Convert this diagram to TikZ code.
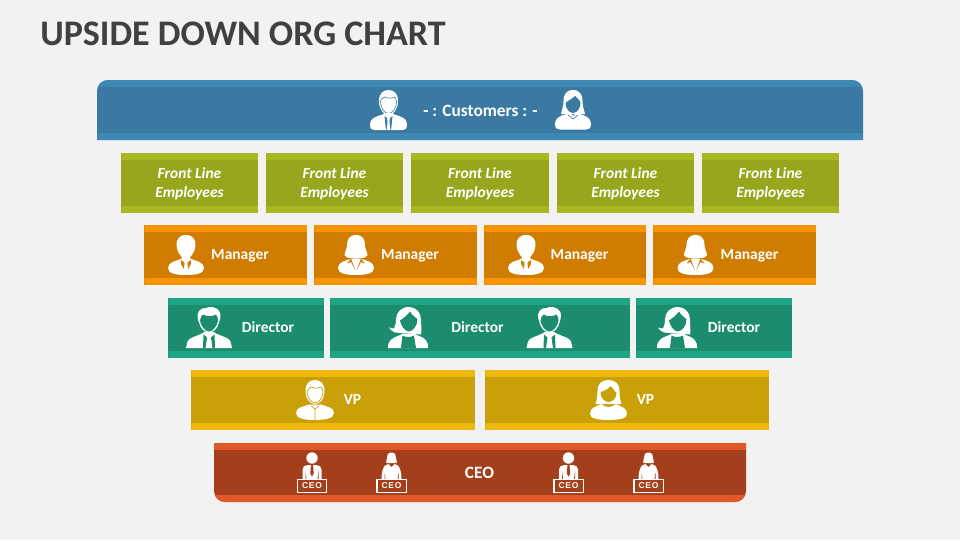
\documentclass[tikz,border=0pt]{standalone}
\usepackage{fontspec}
\setmainfont{Carlito}
\newfontfamily\tagfont[LetterSpace=8]{Liberation Sans}
\usetikzlibrary{positioning}
\definecolor{pagebg}{HTML}{F2F2F2}
\definecolor{titlegray}{HTML}{404040}
\definecolor{custbody}{HTML}{3A7AA2}
\definecolor{custband}{HTML}{3E89B4}
\definecolor{frontbody}{HTML}{98A61E}
\definecolor{frontband}{HTML}{A8B820}
\definecolor{mgrbody}{HTML}{D07C00}
\definecolor{mgrband}{HTML}{F89400}
\definecolor{dirbody}{HTML}{1B8C6E}
\definecolor{dirband}{HTML}{1EA682}
\definecolor{vpbody}{HTML}{CAA008}
\definecolor{vpband}{HTML}{F0B80A}
\definecolor{ceobody}{HTML}{A53E1A}
\definecolor{ceoband}{HTML}{E05828}
\tikzset{
  rowbar/.style 2 args={fill=#1,path picture={
      \fill[#2] (path picture bounding box.north west) rectangle ([yshift=-4.9pt]path picture bounding box.north east);
      \fill[#2] (path picture bounding box.south west) rectangle ([yshift=4.9pt]path picture bounding box.south east);}},
  boxbar/.style={anchor=north west,inner sep=0pt,minimum height=44.5pt},
  wd/.style={minimum width=#1*0.75pt},
  frontbar/.style={boxbar,rowbar={frontbody}{frontband}},
  mgrbar/.style={boxbar,rowbar={mgrbody}{mgrband}},
  dirbar/.style={boxbar,rowbar={dirbody}{dirband}},
  vpbar/.style={boxbar,rowbar={vpbody}{vpband}},
  lbl/.style={text=white,font=\fontsize{11.6pt}{13pt}\selectfont\bfseries,inner sep=0pt},
  boldlbl/.style={text=white,font=\fontsize{13pt}{14pt}\selectfont\bfseries,inner sep=0pt},
  frontlbl/.style={text=white,align=center,inner sep=0pt,font=\fontsize{11.6pt}{14.2pt}\selectfont\bfseries\itshape},
  ceotag/.style={draw=white,line width=1pt,inner sep=0pt,minimum width=22pt,minimum height=9.8pt,
    text=white,font=\tagfont\bfseries\fontsize{6.4pt}{7pt}\selectfont},
  % the people, all in pixels round their middle; the value is the colour behind them
  pics/custman/.style={code={
      \fill[white] (-9.5,-9) .. controls (-9.5,-17) and (-5,-20) .. (0,-20) .. controls (5,-20) and (9.5,-17) .. (9.5,-9) .. controls (9.5,-1) and (5,5) .. (0,5) .. controls (-5,5) and (-9.5,-1) .. (-9.5,-9) -- cycle;
      \draw[#1,line width=.45pt] (-8,-9) .. controls (-7,-11) and (-6,-12.5) .. (-4,-13) .. controls (-1,-11.5) and (4,-11.5) .. (6,-13) .. controls (7,-12) and (8,-10) .. (8,-8) .. controls (8,-2) and (4,3.5) .. (0,3.5) .. controls (-4,3.5) and (-8,-2) .. (-8,-9) -- cycle;
      \fill[white] (-18.5,14) .. controls (-18.5,8) and (-12,6.5) .. (-6,4.5) -- (-4,3) -- (4,3) -- (6,4.5) .. controls (12,6.5) and (18.5,8) .. (18.5,14) .. controls (18.5,19) and (17,20) .. (14,20) -- (-14,20) .. controls (-17,20) and (-18.5,19) .. (-18.5,14) -- cycle;
      \fill[#1] (-4,6) -- (-1.5,8) -- (-1,12) -- (-2,20) -- (-2.6,20) -- cycle;
      \fill[#1] (4,6) -- (1.5,8) -- (1,12) -- (2,20) -- (2.6,20) -- cycle;
  }},
  pics/custwoman/.style={code={
      \fill[white] (0,-20) .. controls (-7,-20) and (-9.5,-15) .. (-9.5,-9) .. controls (-9.5,-4) and (-11,0) .. (-12,4) -- (12,4) .. controls (11,0) and (9.5,-4) .. (9.5,-9) .. controls (9.5,-15) and (7,-20) .. (0,-20) -- cycle;
      \fill[#1] (-7.5,-7) .. controls (-6,-9) and (-2,-10) .. (2,-14) .. controls (4,-11) and (7.5,-10) .. (7.5,-7) .. controls (7.5,-2) and (4,3) .. (0,3) .. controls (-4,3) and (-7.5,-2) .. (-7.5,-7) -- cycle;
      \fill[white] (-18,14) .. controls (-18,8) and (-13,6) .. (-7,4) -- (-3,3) -- (0,6) -- (3,3) -- (7,4) .. controls (13,6) and (18,8) .. (18,14) .. controls (18,18.5) and (16,19.5) .. (13,19.5) -- (-13,19.5) .. controls (-16,19.5) and (-18,18.5) .. (-18,14) -- cycle;
      \draw[#1,line width=.5pt] (-5,5) -- (0,9) -- (5,5);
  }},
  pics/mgrman/.style={code={
      \fill[white] (0,-20) .. controls (-8,-20) and (-10,-14) .. (-9.5,-9) .. controls (-9,-3) and (-5,1) .. (-3.5,3) -- (3.5,3) .. controls (5,1) and (9,-3) .. (9.5,-9) .. controls (10,-14) and (8,-20) .. (0,-20) -- cycle;
      \fill[white] (-18,13) .. controls (-18,7) and (-10,6) .. (-5,4) -- (-3.5,2) -- (3.5,2) -- (5,4) .. controls (10,6) and (18,7) .. (18,13) .. controls (18,18.5) and (10,20) .. (0,20) .. controls (-10,20) and (-18,18.5) .. (-18,13) -- cycle;
      \fill[#1] (-5,5) -- (-1.5,7.5) -- (-2,14) -- (-5,9) -- cycle;
      \fill[#1] (5,5) -- (1.5,7.5) -- (2,14) -- (5,9) -- cycle;
  }},
  pics/mgrwoman/.style={code={
      \fill[white] (0,-20) .. controls (-7,-20) and (-9,-15) .. (-9,-10) .. controls (-9,-6) and (-11.5,-3) .. (-11.5,0) .. controls (-10,3) and (-6,3) .. (-3,3.5) -- (3,3.5) .. controls (6,3) and (10,3) .. (11.5,0) .. controls (11.5,-3) and (9,-6) .. (9,-10) .. controls (9,-15) and (7,-20) .. (0,-20) -- cycle;
      \fill[white] (-18,13) .. controls (-18,7) and (-11,6) .. (-6,4) -- (6,4) .. controls (11,6) and (18,7) .. (18,13) .. controls (18,18.5) and (10,20) .. (0,20) .. controls (-10,20) and (-18,18.5) .. (-18,13) -- cycle;
      \fill[#1] (-9,8.5) -- (-5,3.5) -- (-0.7,15) -- (-5,7) -- cycle;
      \fill[#1] (9,8.5) -- (5,3.5) -- (0.7,15) -- (5,7) -- cycle;
  }},
  pics/dirman/.style={code={
      \fill[white] (-11,-8) .. controls (-13,-15) and (-9,-20) .. (-3,-19.5) .. controls (0,-21.5) and (9,-21) .. (11,-15) .. controls (12,-11) and (11,-8) .. (10,-5) .. controls (9,0) and (5,5) .. (0,5) .. controls (-5,5) and (-9,0) .. (-10,-5) -- cycle;
      \fill[#1] (-9,-7) .. controls (-9,-10) and (-7,-12) .. (-6,-13) .. controls (-2,-10.5) and (4,-11) .. (7,-13) .. controls (8.7,-11) and (9,-9) .. (9,-7) .. controls (8.5,-2) and (4,4) .. (0,4) .. controls (-4,4) and (-8.5,-2) .. (-9,-7) -- cycle;
      \fill[white] (-23,20.5) -- (-21.5,14) .. controls (-20,10) and (-13,9) .. (-7,6) -- (-5,4.5) -- (5,4.5) -- (7,6) .. controls (13,9) and (20,10) .. (21.5,14) -- (23,20.5) -- cycle;
      \fill[#1] (-5.5,7) -- (-2,10) -- (-3.5,20.5) -- (-6,20.5) -- cycle;
      \fill[#1] (5.5,7) -- (2,10) -- (3.5,20.5) -- (6,20.5) -- cycle;
  }},
  pics/dirwoman/.style={code={
      \fill[white] (1,-20.5) .. controls (-7,-20.5) and (-12,-15) .. (-12,-8) .. controls (-12,-4) and (-13,-1) .. (-14,1) -- (-19,0) .. controls (-17,3) and (-15,4) .. (-13,5) -- (13,7) .. controls (14,3) and (13,-2) .. (13,-8) .. controls (13,-15) and (8,-20.5) .. (1,-20.5) -- cycle;
      \fill[#1] (-8,-7) .. controls (-5,-9) and (-1,-12) .. (2,-16) .. controls (4,-12) and (8,-10) .. (9.5,-8) .. controls (9.5,-2) and (5,4) .. (0.5,4) .. controls (-3,4) and (-7,-2) .. (-8,-7) -- cycle;
      \fill[white] (-20,20.5) .. controls (-20.5,13) and (-15,10) .. (-9,8) -- (-5,6) -- (6,6) -- (10,8) .. controls (16,10) and (20.5,13) .. (20,20.5) -- cycle;
      \fill[#1] (-5.5,8) .. controls (-3,10) and (3,10) .. (6,8) -- (8,20.5) -- (-7,20.5) -- cycle;
  }},
  pics/vpman/.style={code={
      \fill[white] (-9.5,-9) .. controls (-9.5,-17) and (-5,-20) .. (0,-20) .. controls (5,-20) and (9.5,-17) .. (9.5,-9) .. controls (9.5,-1) and (5,4) .. (0,4) .. controls (-5,4) and (-9.5,-1) .. (-9.5,-9) -- cycle;
      \draw[#1,line width=.5pt] (-8,-8) .. controls (-7,-10) and (-6,-12) .. (-4,-13) .. controls (-1,-11.5) and (4,-11.5) .. (6,-13) .. controls (7,-12) and (8,-10) .. (8,-8) .. controls (7.5,-2) and (4,2.8) .. (0,2.8) .. controls (-4,2.8) and (-7.5,-2) .. (-8,-8) -- cycle;
      \fill[white] (-19,13) .. controls (-19,7) and (-11,6.5) .. (-5.5,4.5) -- (5.5,4.5) .. controls (11,6.5) and (19,7) .. (19,13) .. controls (19,18.5) and (10,20) .. (0,20) .. controls (-10,20) and (-19,18.5) .. (-19,13) -- cycle;
      \draw[#1,line width=.45pt] (-4,6) -- (0,9) -- (4,6) (0,9) -- (0,20);
  }},
  pics/vpwoman/.style={code={
      \fill[white] (0,-20) .. controls (-7,-20) and (-11,-16) .. (-11,-9) .. controls (-11,-3) and (-12,1) .. (-13,4) -- (13,4) .. controls (12,1) and (11,-3) .. (11,-9) .. controls (11,-16) and (7,-20) .. (0,-20) -- cycle;
      \fill[#1] (-8,-8) .. controls (-4,-9) and (0,-11) .. (2,-14) .. controls (4,-11) and (7,-9) .. (8,-7) .. controls (8,-2) and (4,2) .. (0,2) .. controls (-4,2) and (-8,-2) .. (-8,-8) -- cycle;
      \fill[white] (-18.5,14) .. controls (-18.5,8) and (-13,6.5) .. (-7,4) .. controls (-4,8) and (4,8) .. (7,4) .. controls (13,6.5) and (18.5,8) .. (18.5,14) .. controls (18.5,18.5) and (10,20) .. (0,20) .. controls (-10,20) and (-18.5,18.5) .. (-18.5,14) -- cycle;
      \fill[#1] (-7,3.4) .. controls (-4,7) and (4,7) .. (7,3.4) .. controls (4,5) and (-4,5) .. (-7,3.4) -- cycle;
  }},
  pics/ceoman/.style={code={
      \fill[white] (0,-14.5) circle (5.7);
      \fill[white] (-9.5,6.5) -- (-9.5,-3) .. controls (-9.5,-6) and (-7,-7.5) .. (-4,-7.5) -- (4,-7.5) .. controls (7,-7.5) and (9.5,-6) .. (9.5,-3) -- (9.5,6.5) -- cycle;
      \fill[#1] (-6.5,-1.5) -- (-6.5,6.5) -- (-5.5,6.5) -- cycle (6.5,-1.5) -- (6.5,6.5) -- (5.5,6.5) -- cycle;
      \fill[#1] (-1,-7.5) -- (1,-7.5) -- (1.7,1) -- (0,4) -- (-1.7,1) -- cycle;
      \node[ceotag] (-tag) at (0,13.5) {CEO};
  }},
  pics/ceowoman/.style={code={
      \fill[white] (0,-20) .. controls (-3.5,-20) and (-5,-17) .. (-4.5,-14.5) .. controls (-4.5,-12) and (-6,-11.5) .. (-5,-9.5) -- (5,-9.5) .. controls (6,-11.5) and (4.5,-12) .. (4.5,-14.5) .. controls (5,-17) and (3.5,-20) .. (0,-20) -- cycle;
      \fill[white] (-10,6.5) .. controls (-10,0) and (-8.5,-5) .. (-6.5,-7) -- (-3,-8.5) -- (0,-5.5) -- (3,-8.5) -- (6.5,-7) .. controls (8.5,-5) and (10,0) .. (10,6.5) -- cycle;
      \fill[#1] (-7,0) -- (-7,6.5) -- (-6,6.5) -- cycle (7,0) -- (7,6.5) -- (6,6.5) -- cycle;
      \node[ceotag] (-tag) at (0,13.5) {CEO};
  }},
}
\begin{document}
\begin{tikzpicture}[x=0.75pt,y=-0.75pt]
  \useasboundingbox (0,0) rectangle (960,540);
  \fill[pagebg] (0,0) rectangle (960,540);
  \node[anchor=west,inner sep=0pt,text=titlegray,font=\bfseries\fontsize{27pt}{32pt}\selectfont] (title) at (40,34) {UPSIDE DOWN ORG CHART};

  % customers
  \path[rowbar={custbody}{custband}] (97,140) -- (97,91) .. controls (97,85) and (102,80) .. (108,80) -- (852,80) .. controls (858,80) and (863,85) .. (863,91) -- (863,140) -- cycle;
  \node[boldlbl] (custtext) at (480.5,110.5) {- : Customers : -};
  \pic at (388.5,110) {custman=custbody};
  \pic at (573,110) {custwoman=custbody};

  % front line
  \node[frontbar,wd=137] (front1) at (121,153) {};
  \node[frontbar,wd=137] (front2) at (266,153) {};
  \node[frontbar,wd=138] (front3) at (411,153) {};
  \node[frontbar,wd=137] (front4) at (557,153) {};
  \node[frontbar,wd=137] (front5) at (702,153) {};
  \node[frontlbl] (fronttext1) at (189.5,184) {Front Line\\Employees};
  \node[frontlbl] (fronttext2) at (334.5,184) {Front Line\\Employees};
  \node[frontlbl] (fronttext3) at (480,184) {Front Line\\Employees};
  \node[frontlbl] (fronttext4) at (625.5,184) {Front Line\\Employees};
  \node[frontlbl] (fronttext5) at (770.5,184) {Front Line\\Employees};

  % managers
  \node[mgrbar,wd=163] (mgr1) at (144,225) {};
  \node[mgrbar,wd=163] (mgr2) at (314,225) {};
  \node[mgrbar,wd=162] (mgr3) at (484,225) {};
  \node[mgrbar,wd=163] (mgr4) at (653,225) {};
  \node[lbl] (mgrtext1) at (240,256) {Manager};
  \node[lbl] (mgrtext2) at (410,256) {Manager};
  \node[lbl] (mgrtext3) at (579.5,256) {Manager};
  \node[lbl] (mgrtext4) at (749.5,256) {Manager};
  \pic at (186,255) {mgrman=mgrbody};
  \pic at (356,255) {mgrwoman=mgrbody};
  \pic at (526,255) {mgrman=mgrbody};
  \pic at (695.5,255) {mgrwoman=mgrbody};

  % directors
  \node[dirbar,wd=156] (dir1) at (168,298) {};
  \node[dirbar,wd=300] (dir2) at (330,298) {};
  \node[dirbar,wd=156] (dir3) at (636,298) {};
  \node[lbl] (dirtext1) at (268,327) {Director};
  \node[lbl] (dirtext2) at (477.5,327) {Director};
  \node[lbl] (dirtext3) at (734,327) {Director};
  \pic at (209,327.5) {dirman=dirbody};
  \pic at (408,327.5) {dirwoman=dirbody};
  \pic at (549.5,327.5) {dirman=dirbody};
  \pic at (677,327.5) {dirwoman=dirbody};

  % vps
  \node[vpbar,wd=284] (vp1) at (191,370) {};
  \node[vpbar,wd=284] (vp2) at (485,370) {};
  \node[lbl] (vptext1) at (352.5,399.5) {VP};
  \node[lbl] (vptext2) at (645.5,399.5) {VP};
  \pic at (315,400) {vpman=vpbody};
  \pic at (608.5,400) {vpwoman=vpbody};

  % ceo
  \path[rowbar={ceobody}{ceoband}] (214,443) -- (746,443) -- (746,491) .. controls (746,497) and (741,502) .. (735,502) -- (225,502) .. controls (219,502) and (214,497) .. (214,491) -- cycle;
  \node[boldlbl] (ceotext) at (479.5,472.5) {CEO};
  \pic (ceo1) at (312,472.5) {ceoman=ceobody};
  \pic (ceo2) at (391.5,472.5) {ceowoman=ceobody};
  \pic (ceo3) at (568.5,472.5) {ceoman=ceobody};
  \pic (ceo4) at (648.5,472.5) {ceowoman=ceobody};
\end{tikzpicture}
\end{document}
